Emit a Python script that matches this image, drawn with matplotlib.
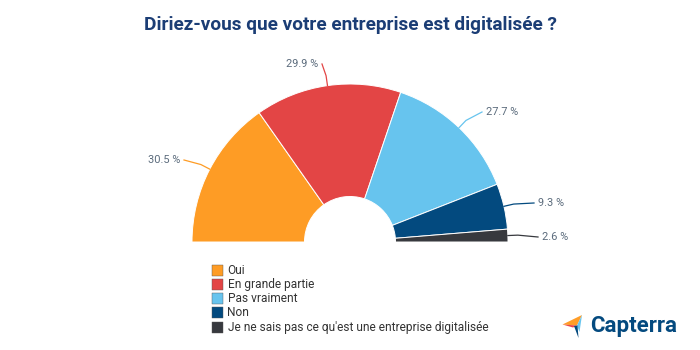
import numpy as np
import matplotlib
matplotlib.use("Agg")
import matplotlib.pyplot as plt
from matplotlib.patches import Rectangle, Polygon

# ---- data ----
categories = ["Oui", "En grande partie", "Pas vraiment", "Non",
              "Je ne sais pas ce qu'est une entreprise digitalisée"]
values = [30.5, 29.9, 27.7, 9.3, 2.6]
value_labels = ["30.5 %", "29.9 %", "27.7 %", "9.3 %", "2.6 %"]
colors = ["#fe9c25", "#e34545", "#67c4ee", "#034a7f", "#37393e"]
title = "Diriez-vous que votre entreprise est digitalisée ?"

plt.rcParams['font.family'] = ['Roboto', 'DejaVu Sans']

W, H = 700, 350
fig = plt.figure(figsize=(7, 3.5), dpi=100)
ax = fig.add_axes([0, 0, 1, 1])

def py(y):  # pixel y (top-down) -> data y
    return H - y

cx, cy = 350, 242
R, r_in = 158, 45.5

fracs = np.array(values) / (2 * sum(values))
wedges, _ = ax.pie(fracs, normalize=False, colors=colors, startangle=180,
                   counterclock=False, center=(cx, py(cy)), radius=R,
                   wedgeprops=dict(width=R - r_in, edgecolor='white', linewidth=0.7))

ax.set_xlim(0, W)
ax.set_ylim(0, H)
ax.set_aspect('equal')
ax.axis('off')

# data labels with connectors
label_pos = [(180, 160, 'right'), (318, 64, 'right'), (486, 112, 'left'),
             (538, 203, 'left'), (542, 237, 'left')]
cum = np.concatenate([[0], np.cumsum(values)])
total = sum(values)
for i, (lx, ly, ha) in enumerate(label_pos):
    mid = np.pi - (cum[i] + values[i] / 2) / total * np.pi
    ex, ey = cx + R * np.cos(mid), cy - R * np.sin(mid)
    bx, by = cx + (R + 10) * np.cos(mid), cy - (R + 10) * np.sin(mid)
    endx = lx + (4 if ha == 'right' else -4)
    ax.plot([ex, bx, endx], [py(ey), py(by), py(ly)], color=colors[i], lw=0.9,
            solid_joinstyle='round')
    ax.text(lx, py(ly), value_labels[i], ha=ha, va='center', fontsize=7.9,
            color='#5b6b7c')

# title
ax.text(350, py(25), title, ha='center', va='center', fontsize=13.7,
        fontweight='bold', color='#1b3d75')

# legend
lx0, ly0, step = 211.5, 270, 14.3
for i, cat in enumerate(categories):
    yy = ly0 + i * step
    ax.add_patch(Rectangle((lx0, py(yy) - 5.5), 11, 11, facecolor=colors[i],
                           edgecolor='#555555', linewidth=0.3))
    ax.text(lx0 + 16, py(yy), cat, ha='left', va='center', fontsize=8.6,
            color='#333333')

# Capterra logo
logo = [
    ([(562.5, 324.5), (582, 315), (577, 325.5)], '#ff9d28'),
    ([(562.5, 324.5), (577, 325.5), (573, 327.5)], '#e8474b'),
    ([(582, 315), (577, 325.5), (579.5, 332)], '#68c5ef'),
    ([(574, 326), (577.5, 325.5), (578.5, 338)], '#044a7f'),
]
for pts, c in logo:
    ax.add_patch(Polygon([(x, py(y)) for x, y in pts], closed=True,
                         facecolor=c, edgecolor='none'))
ax.text(590, py(326), "Capterra", ha='left', va='center', fontsize=16,
        fontweight='semibold', color='#044a7f')

fig.savefig("out.png", dpi=100)
